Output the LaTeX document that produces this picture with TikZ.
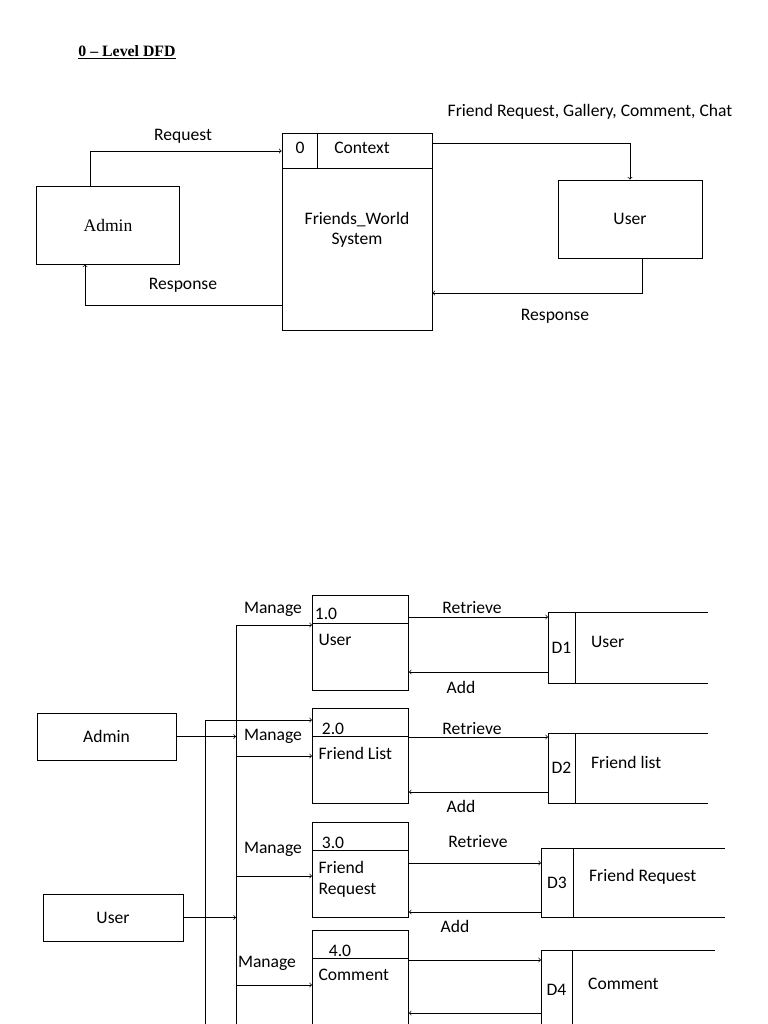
\documentclass[tikz,border=0pt]{standalone}
\usepackage{fontspec}
\setmainfont{Carlito}
\newfontfamily\tnr{Liberation Serif}
\usetikzlibrary{calc}

\begin{document}
\begin{tikzpicture}
[   x=0.03cm,y=-0.03cm,
    every node/.style={font=\fontsize{15}{17.5}\selectfont},
    box/.style={draw,thick,inner sep=0pt,align=center},
    flow/.style={->,>=to,semithick},
    lab/.style={inner sep=1pt}
]
    \useasboundingbox (0,0) rectangle (768,1024);
    \node[font=\tnr\bfseries\fontsize{13.5}{16}\selectfont] (title) at (127,52) {\underline{0 \textendash{} Level DFD}};

    % context level
    \node[box,minimum width=143*0.03cm,minimum height=78*0.03cm,font=\tnr\fontsize{15}{16}\selectfont] (admin) at (108,225) {Admin};
    \node[box,minimum width=150*0.03cm,minimum height=197*0.03cm] (ctx) at (357,231.5) {};
        \draw[thick] (282,168) -- (432,168);
        \draw[thick] (317,133) -- (317,168);
    \node (ctxno) at (300,148) {0};
    \node (ctxname) at (362,148) {Context};
    \node[align=center] (ctxtext) at (357,230) {Friends\_World\\System};
    \node[box,minimum width=144*0.03cm,minimum height=78*0.03cm] (user) at (630,219) {User};

    \draw[flow] (admin.north -| 90,0) |- (ctx.north west |- 0,151);
    \draw[flow] (ctx.south west |- 0,305) -| (admin.south -| 85,0);
    \draw[flow] (ctx.north east |- 0,143) -| (user.north);
    \draw[flow] (user.south -| 642,0) |- (ctx.east |- 0,293);
    \node (req) at (183,136) {Request};
    \node (resp1) at (183,285) {Response};
    \node (fwd) at (590,112) {Friend Request, Gallery, Comment, Chat};
    \node (resp2) at (555,316) {Response};

    % level 1
    \foreach \n/\y/\h/\t in {1/595/95/User, 2/708/95/Friend List, 3/822/95/{Friend\\Request}, 4/930/110/Comment}
    {
        \node[box,minimum width=96*0.03cm,minimum height=\h*0.03cm,anchor=north west] (p\n) at (312,\y) {};
        \draw[thick] (312,\y+28) -- (408,\y+28);
        \node[align=left,anchor=north west,inner sep=2pt] (p\n text) at (316,\y+37) {\t};
    }
    \node (p1no) at (326,614) {1.0};
    \node (p2no) at (333,729) {2.0};
    \node (p3no) at (333,843) {3.0};
    \node (p4no) at (340,951) {4.0};

    \foreach \n/\l/\m/\t/\b/\r/\lbl in {1/548/575/612/683/708/User, 2/548/575/733/803/708/Friend list, 3/541/573/848/917/725/Friend Request, 4/541/572/950/1030/715/Comment}
    {
        \draw[thick] (\r,\t) -- (\l,\t) -- (\l,\b) -- (\r,\b);
        \draw[thick] (\m,\t) -- (\m,\b);
        \coordinate (d\n) at (\l,\t);
        \node (d\n id) at ($(\l,{(\t+\b)/2})!0.5!(\m,{(\t+\b)/2})$) {D\n};
        \node[anchor=west] (d\n name) at (\m+12,{(\t+\b)/2-6}) {\lbl};
    }

    \foreach \n/\r/\a in {1/617/672, 2/737/792, 3/863/912, 4/960/1013}
    {
        \draw[flow] (p\n.east |- 0,\r) -- (d\n |- 0,\r);
        \draw[flow] (d\n |- 0,\a) -- (p\n.east |- 0,\a);
    }
    \node (r1) at (472,608) {Retrieve};
    \node (r2) at (472,729) {Retrieve};
    \node (r3) at (478,842) {Retrieve};
    \node (a1) at (461,687) {Add};
    \node (a2) at (461,806) {Add};
    \node (a3) at (455,926) {Add};

    \node[box,minimum width=139*0.03cm,minimum height=47*0.03cm] (admin2) at (106.5,736.5) {Admin};
    \node[box,minimum width=140*0.03cm,minimum height=47*0.03cm] (user2) at (113,917.5) {User};
    \coordinate (bus) at (236,625);
    \coordinate (bus2) at (205,720);
    \draw[semithick] (bus) -- (236,1024);
    \draw[semithick] (bus2 |- 0,1024) -- (bus2) -- (236,720);
    \draw[flow] (236,720) -- (p2.west |- 0,720);
    \draw[flow] (admin2) -- (bus |- admin2);
    \draw[flow] (user2) -- (bus |- user2);
    \foreach \n/\y in {1/625, 2/756, 3/876, 4/985}
        \draw[flow] (bus |- 0,\y) -- (p\n.west |- 0,\y);
    \node (m1) at (273,609) {Manage};
    \node (m2) at (273,736) {Manage};
    \node (m3) at (273,849) {Manage};
    \node (m4) at (267,963) {Manage};
\end{tikzpicture}
\end{document}
